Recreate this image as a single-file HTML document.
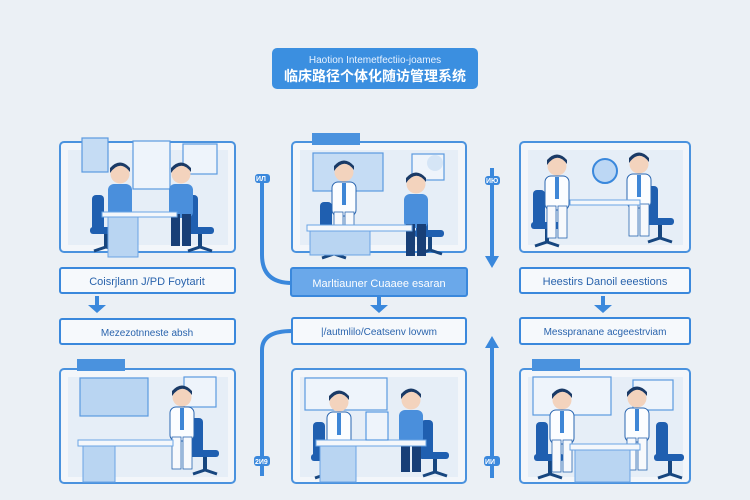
<!DOCTYPE html>
<html><head><meta charset="utf-8"><style>
html,body{margin:0;padding:0;background:#ebf0f5;}
svg{display:block}
text{font-family:"Liberation Sans","Noto Sans CJK SC",sans-serif}
</style></head><body>
<svg width="750" height="500" viewBox="0 0 750 500" xmlns="http://www.w3.org/2000/svg">
<defs>
<g id="chair"><rect x="-4" y="0" width="12" height="38" rx="4" fill="#1f5fb0"/><rect x="-6" y="32" width="30" height="7" rx="3" fill="#1f5fb0"/><rect x="8" y="39" width="4" height="14" fill="#17467f"/><path d="M-2 56 L10 52 L22 56" stroke="#17467f" stroke-width="3" fill="none"/></g>
<g id="pblue"><rect x="-12" y="14" width="24" height="34" rx="6" fill="#4a8fdc"/><circle cx="0" cy="4" r="9.5" fill="#f3d3bd"/><path d="M-10 3 Q0 -11 10 2 L10 -2 Q0 -13 -10 -2Z" fill="#1a3a66"/><rect x="-10" y="44" width="9" height="32" fill="#183f77"/><rect x="1" y="44" width="9" height="32" fill="#183f77"/></g>
<g id="pwhite"><rect x="-12" y="14" width="24" height="34" rx="6" fill="#fbfdff" stroke="#2a66b0" stroke-width="1"/><rect x="-2" y="15" width="4" height="22" fill="#3e86d6"/><circle cx="0" cy="4" r="9.5" fill="#f3d3bd"/><path d="M-10 3 Q0 -11 10 2 L10 -2 Q0 -13 -10 -2Z" fill="#1a3a66"/><rect x="-10" y="44" width="9" height="32" fill="#f7f9fc" stroke="#2a66b0" stroke-width="0.8"/><rect x="1" y="44" width="9" height="32" fill="#f7f9fc" stroke="#2a66b0" stroke-width="0.8"/></g>
</defs>

<!-- title -->
<rect x="272" y="48" width="206" height="41" rx="5" fill="#3b8fe0"/>
<text x="375" y="63" font-size="10" fill="#e8f2ff" text-anchor="middle">Haotion Intemetfectiio-joames</text>
<text x="375" y="81" font-size="14" fill="#fff" text-anchor="middle" font-weight="bold">临床路径个体化随访管理系统</text>

<!-- connectors -->
<g stroke="#3a88dc" stroke-width="4" fill="none">
<path d="M262 175 L262 255 Q262 283 292 283"/>
<path d="M262 476 L262 350 Q262 331 292 331"/>
<path d="M492 168 L492 258"/>
<path d="M492 478 L492 345"/>
<path d="M97 296 L97 306"/><path d="M379 296 L379 306"/><path d="M603 296 L603 306"/>
</g>
<g fill="#3a88dc">
<path d="M485 256 L499 256 L492 268Z"/>
<path d="M485 348 L499 348 L492 336Z"/>
<path d="M88 305 L106 305 L97 313Z"/><path d="M370 305 L388 305 L379 313Z"/><path d="M594 305 L612 305 L603 313Z"/>
</g>
<g font-size="7" fill="#fff" font-weight="bold">
<rect x="255" y="174" width="15" height="9" rx="3" fill="#3a88dc"/><text x="256" y="181">ИЛ</text>
<rect x="485" y="176" width="15" height="9" rx="3" fill="#3a88dc"/><text x="486" y="183">ИЮ</text>
<rect x="254" y="456" width="16" height="10" rx="3" fill="#3a88dc"/><text x="255" y="464">2И9</text>
<rect x="484" y="456" width="16" height="10" rx="3" fill="#3a88dc"/><text x="485" y="464">ИИ</text>
</g>

<!-- panels -->
<g fill="#f3f6fa" stroke="#4a92de" stroke-width="2">
<rect x="60" y="142" width="175" height="110" rx="4"/>
<rect x="292" y="142" width="174" height="110" rx="4"/>
<rect x="520" y="142" width="170" height="110" rx="4"/>
<rect x="60" y="369" width="175" height="114" rx="4"/>
<rect x="292" y="369" width="174" height="114" rx="4"/>
<rect x="520" y="369" width="170" height="114" rx="4"/>
</g>
<g fill="#e6eef7"><rect x="68" y="150" width="160" height="95"/><rect x="300" y="150" width="158" height="95"/><rect x="528" y="150" width="155" height="95"/><rect x="68" y="377" width="160" height="100"/><rect x="300" y="377" width="158" height="100"/><rect x="528" y="377" width="155" height="100"/></g>
<g fill="#4a92de"><rect x="312" y="133" width="48" height="12"/><rect x="77" y="359" width="48" height="12"/><rect x="532" y="359" width="48" height="12"/></g>
<g fill="#c5dcf4" stroke="#5b9ae0" stroke-width="1.2">
<rect x="82" y="138" width="26" height="34"/>
<rect x="133" y="141" width="37" height="48" fill="#eef4fb"/>
<rect x="183" y="144" width="34" height="30" fill="#eef4fb"/>
<rect x="313" y="153" width="70" height="38"/>
<rect x="412" y="154" width="32" height="26" fill="#eef4fb"/>
<rect x="80" y="378" width="68" height="38" fill="#b9d5f2"/>
<rect x="184" y="377" width="32" height="30" fill="#eef4fb"/>
<rect x="305" y="378" width="82" height="32" fill="#eef4fb"/>
<rect x="533" y="377" width="78" height="38" fill="#eef4fb"/>
<rect x="633" y="380" width="40" height="30" fill="#eef4fb"/>
</g>
<circle cx="605" cy="171" r="12" fill="#bcd7f4" stroke="#3a88dc" stroke-width="2"/>
<circle cx="435" cy="163" r="8" fill="#d5e5f6"/>

<!-- chairs (behind) -->
<use href="#chair" x="96" y="195"/><use href="#chair" x="190" y="195"/>
<use href="#chair" x="324" y="202"/><use href="#chair" x="420" y="198"/>
<use href="#chair" x="537" y="190"/><use href="#chair" x="650" y="186"/>
<use href="#chair" x="195" y="418"/><use href="#chair" x="317" y="422"/>
<use href="#chair" x="425" y="420"/><use href="#chair" x="540" y="422"/><use href="#chair" x="660" y="422"/>

<!-- people -->
<use href="#pblue" x="120" y="170"/><use href="#pblue" x="181" y="170"/>
<use href="#pwhite" x="344" y="168"/><use href="#pblue" x="416" y="180"/>
<use href="#pwhite" x="557" y="162"/><use href="#pwhite" x="639" y="160"/>
<use href="#pwhite" x="182" y="393"/>
<use href="#pwhite" x="339" y="398"/><use href="#pblue" x="411" y="396"/>
<use href="#pwhite" x="562" y="396"/><use href="#pwhite" x="637" y="394"/>

<!-- tables -->
<g fill="#f4f7fb" stroke="#6aa4e4" stroke-width="1">
<rect x="102" y="212" width="75" height="5"/><rect x="108" y="217" width="30" height="40" fill="#b9d5f2"/>
<rect x="307" y="225" width="105" height="6"/><rect x="310" y="231" width="60" height="24" fill="#b9d5f2"/>
<rect x="570" y="200" width="70" height="5"/>
<rect x="78" y="440" width="95" height="6"/><rect x="83" y="446" width="32" height="36" fill="#b9d5f2"/>
<rect x="316" y="440" width="110" height="6"/><rect x="320" y="446" width="36" height="36" fill="#b9d5f2"/>
<rect x="570" y="444" width="70" height="6"/><rect x="575" y="450" width="55" height="32" fill="#b9d5f2"/>
</g>
<rect x="366" y="412" width="22" height="28" fill="#eef4fb" stroke="#3a88dc"/>

<!-- label boxes -->
<g fill="#f6f9fc" stroke="#3a88dc" stroke-width="2">
<rect x="60" y="268" width="175" height="25" rx="2"/>
<rect x="520" y="268" width="170" height="25" rx="2"/>
<rect x="60" y="319" width="175" height="25" rx="2"/>
<rect x="292" y="318" width="174" height="26" rx="2"/>
<rect x="520" y="318" width="170" height="26" rx="2"/>
<rect x="291" y="268" width="176" height="28" rx="2" fill="#6aa8ea"/>
</g>
<g font-size="11" fill="#2a64ad" text-anchor="middle">
<text x="147" y="285">Coisrjlann J/PD Foytarit</text>
<text x="379" y="287" fill="#fff">Marltiauner Cuaaee esaran</text>
<text x="605" y="285">Heestirs Danoil eeestions</text>
<text x="147" y="336" font-size="10">Mezezotnneste absh</text>
<text x="379" y="335" font-size="10">|/autmlilo/Ceatsenv lovwm</text>
<text x="605" y="335" font-size="10">Messpranane acgeestrviam</text>
</g>
</svg>
</body></html>
